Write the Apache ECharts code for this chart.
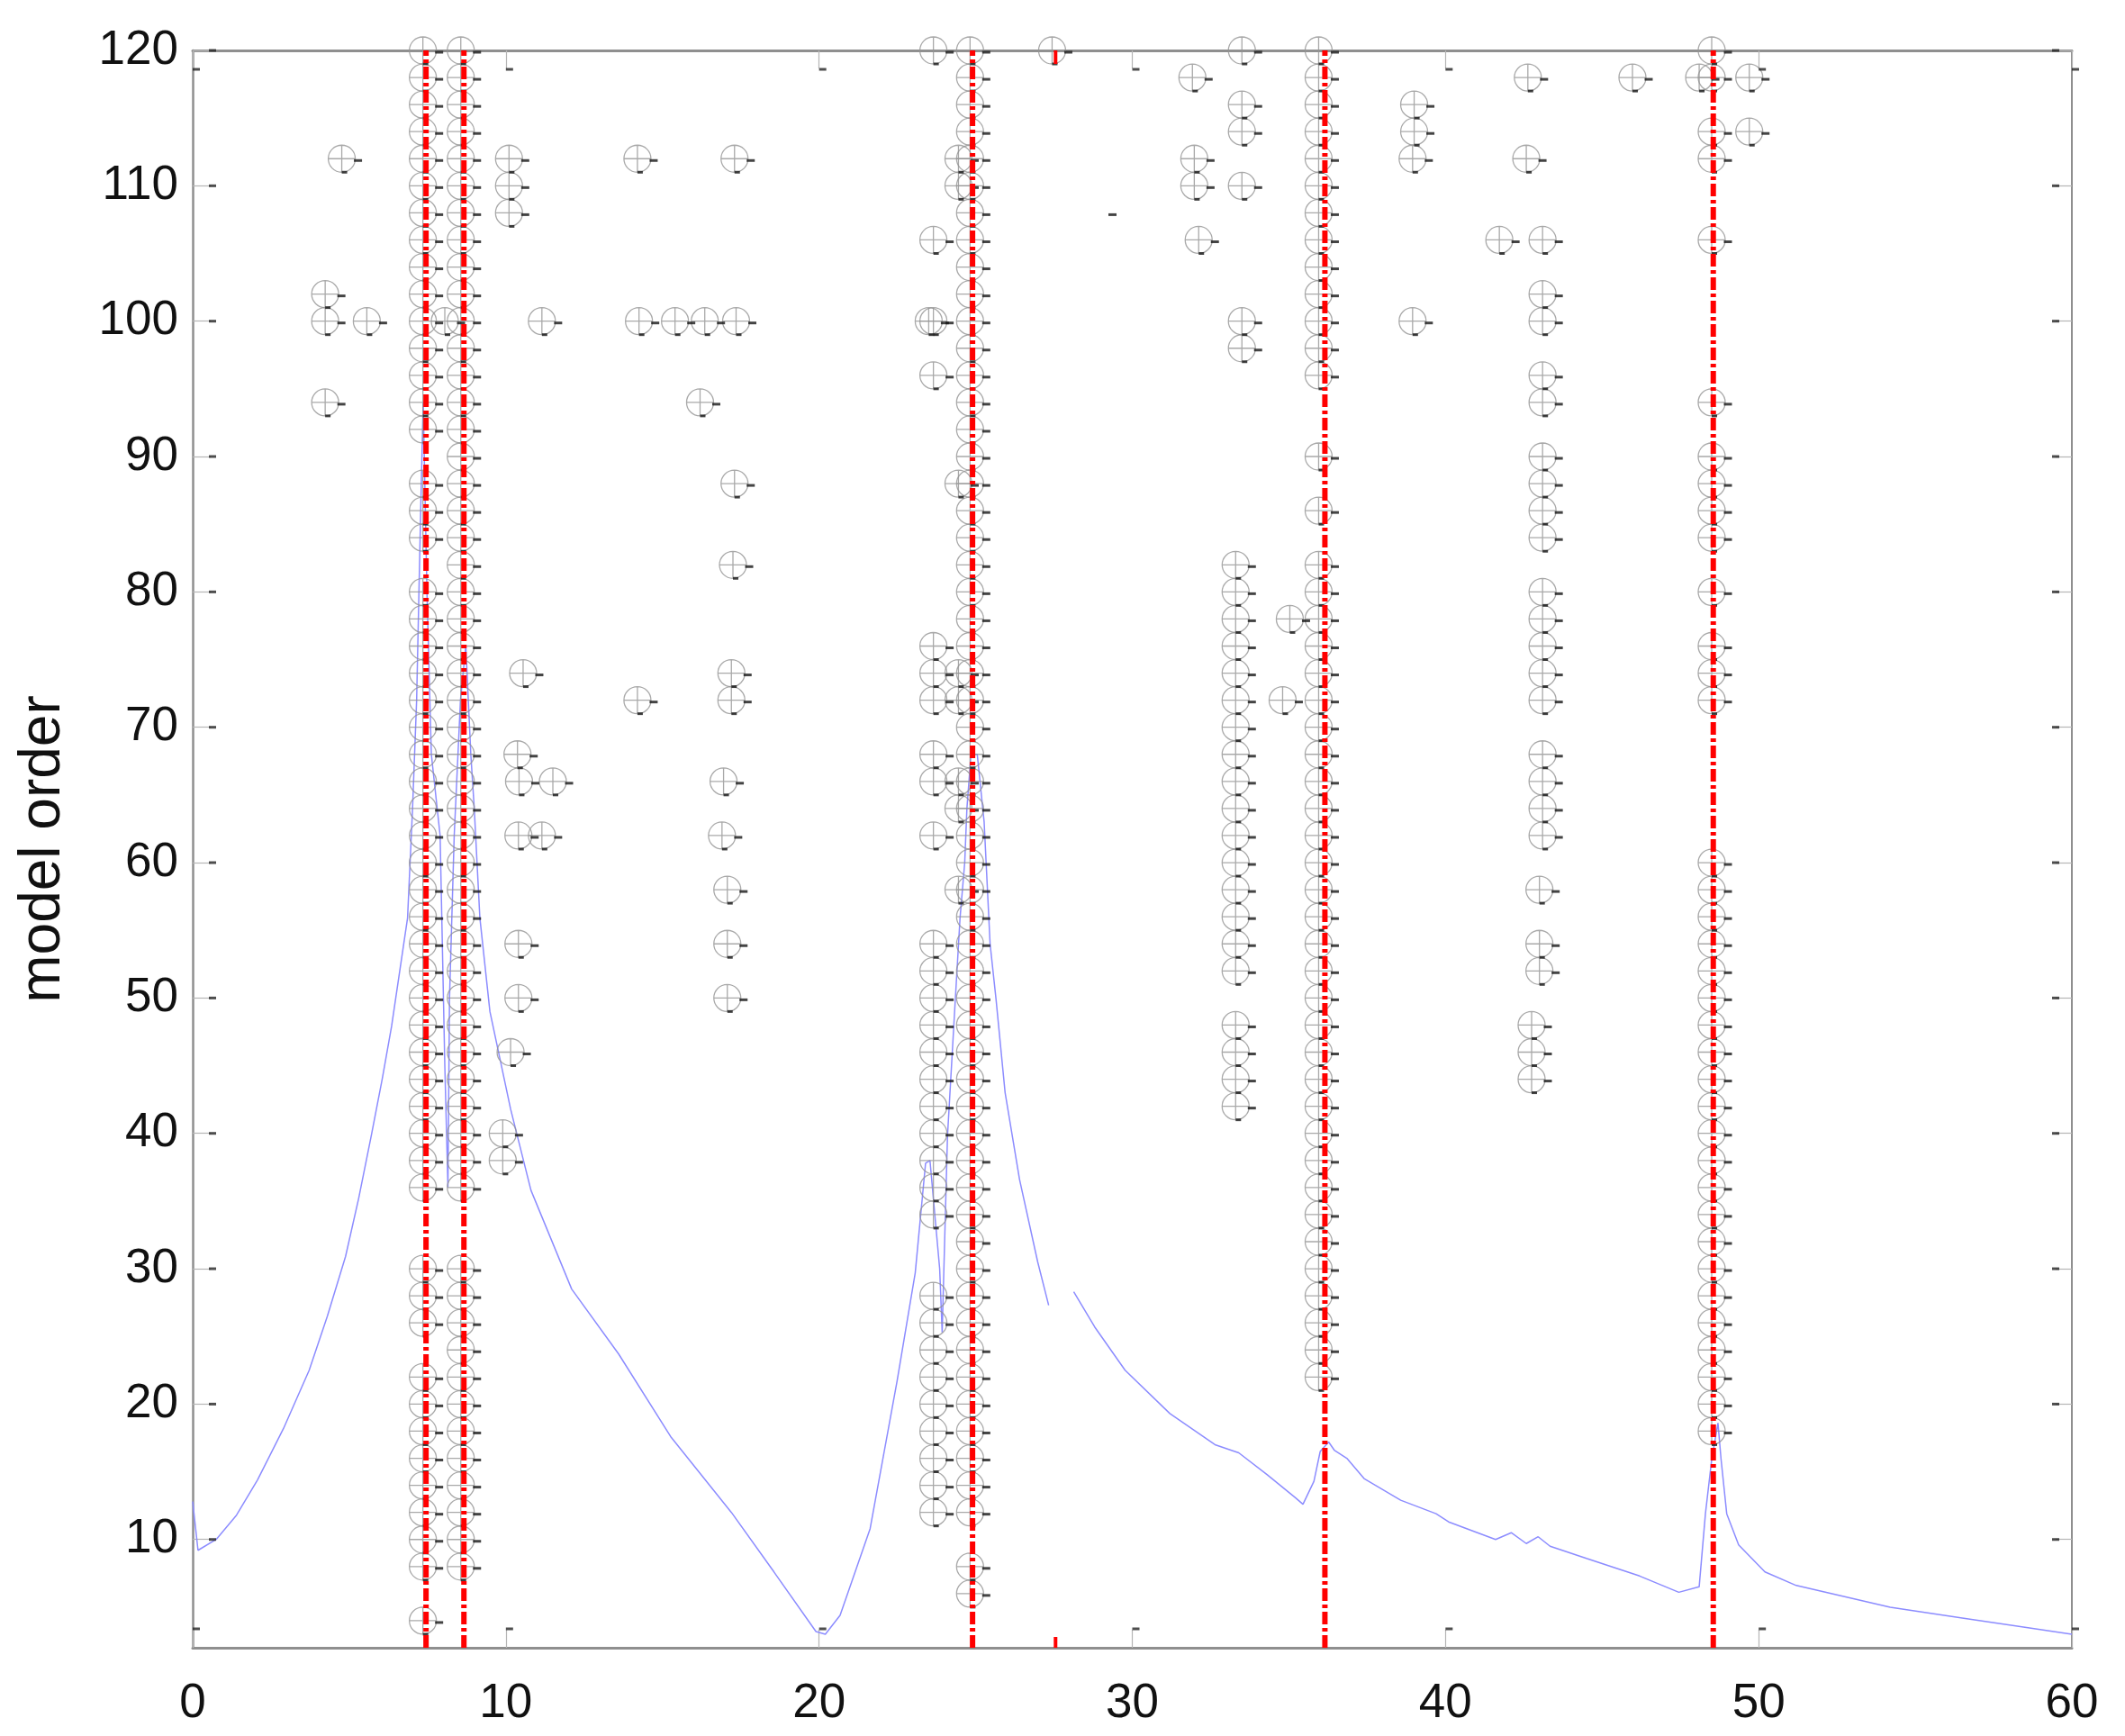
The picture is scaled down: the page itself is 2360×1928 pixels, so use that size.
<!DOCTYPE html>
<html>
<head>
<meta charset="utf-8">
<script src="https://cdn.jsdelivr.net/npm/echarts/dist/echarts.min.js"></script>
<style>
html,body{margin:0;padding:0;background:#ffffff;}
#chart{width:2360px;height:1928px;}
</style>
</head>
<body>
<div id="chart"></div>
<script>
// ---------------- data ----------------
const xTickValues = [0, 10, 20, 30, 40, 50, 60];
const yTickValues = [10, 20, 30, 40, 50, 60, 70, 80, 90, 100, 110, 120];
const yAxisName = 'model order';

// identified modal frequencies (red dash-dot lines)
const modeFrequencies = [7.45, 8.66, 24.9, 36.15, 48.55];

// blue spectrum curve [frequency, scaled level]
const spectrumCurve = [
  [0, 12.8], [0.17, 9.2], [0.75, 10.0], [1.4, 11.8], [2.07, 14.4], [2.9, 18.2], [3.72, 22.5],
  [4.3, 26.5], [4.88, 30.9], [5.3, 35.2], [5.7, 39.8], [6.05, 44.0],
  [6.35, 47.9], [6.86, 55.9], [7.02, 64], [7.15, 72], [7.28, 86], [7.36, 94], [7.48, 80],
  [7.62, 68], [7.9, 62], [8.05, 45], [8.15, 36], [8.2, 50], [8.35, 62], [8.55, 72], [8.72, 76],
  [8.88, 68], [8.99, 64], [9.17, 55.9], [9.49, 49], [10.15, 41.8], [10.8, 35.8], [12.1, 28.5],
  [13.6, 23.7], [15.26, 17.6], [17.2, 12.0], [18.56, 7.6], [19.9, 3.2], [20.2, 3.0], [20.67, 4.4],
  [21.63, 10.8], [22.49, 21.7], [23.07, 29.7], [23.4, 37.8], [23.54, 38], [23.85, 30], [23.93, 25.3],
  [24.1, 39.8], [24.3, 47.9], [24.5, 55.9], [24.65, 60], [24.72, 64], [24.85, 68], [25.05, 68],
  [25.27, 63], [25.46, 54], [25.65, 49.9], [25.94, 43], [26.4, 36.6], [26.98, 30.5], [27.33, 27.3],
  ['-', '-'],
  [28.13, 28.3], [28.8, 25.7], [29.77, 22.5], [31.2, 19.3], [32.64, 17.0], [33.4, 16.4],
  [34.3, 14.8], [35.2, 13.1], [35.45, 12.6], [35.8, 14.3], [36.0, 16.5], [36.27, 17.2],
  [36.45, 16.6], [36.85, 16.0], [37.4, 14.5], [38.57, 12.9], [39.7, 11.9], [40.1, 11.3],
  [41.6, 10.0], [42.1, 10.5], [42.58, 9.7], [42.96, 10.2], [43.34, 9.5], [44.5, 8.6], [46.2, 7.3],
  [47.45, 6.1], [48.1, 6.5], [48.3, 11.9], [48.5, 15.9], [48.7, 18.6], [48.8, 15.9], [48.98, 11.9],
  [49.36, 9.6], [50.2, 7.6], [51.2, 6.6], [54.2, 5.0], [56.5, 4.2], [58.55, 3.5], [60, 3.0]
];

// stable-pole columns: frequency + model orders
const column1Freq = 7.35;
const column1Orders = [120,118,116,114,112,110,108,106,104,102,100,98,96,94,92,88,86,84,80,78,76,74,72,70,68,66,64,62,60,58,56,54,52,50,48,46,44,42,40,38,36,30,28,26,22,20,18,16,14,12,10,8,4];
const column2Freq = 8.56;
const column2Orders = [120,118,116,114,112,110,108,106,104,102,100,98,96,94,92,90,88,86,84,82,80,78,76,74,72,70,68,66,64,62,60,58,56,54,52,50,48,46,44,42,40,38,36,30,28,26,24,22,20,18,16,14,12,10,8];
const column3Freq = 23.65;
const column3Orders = [120,106,100,96,76,74,72,68,66,62,54,52,50,48,46,44,42,40,38,36,34,28,26,24,22,20,18,16,14,12];
const column4Freq = 24.82;
const column4Orders = [120,118,116,114,112,110,108,106,104,102,100,98,96,94,92,90,88,86,84,82,80,78,76,74,72,70,68,66,64,62,60,58,56,54,52,50,48,46,44,42,40,38,36,34,32,30,28,26,24,22,20,18,16,14,12,8,6];
const column4bFreq = 24.45;
const column4bOrders = [112,110,88,74,72,66,64,58];
const column5Freq = 33.5;
const column5Orders = [120,116,114,110,100,98];
const column6Freq = 33.3;
const column6Orders = [82,80,78,76,74,72,70,68,66,64,62,60,58,56,54,52,48,46,44,42];
const column7Freq = 35.95;
const column7Orders = [120,118,116,114,112,110,108,106,104,102,100,98,96,90,86,82,80,78,76,74,72,70,68,66,64,62,60,58,56,54,52,50,48,46,44,42,40,38,36,34,32,30,28,26,24,22];
const column8Freq = 43.1;
const column8Orders = [106,102,100,96,94,90,88,86,84,80,78,76,74,72,68,66,64,62];
const column8bFreq = 43.0;
const column8bOrders = [58,54,52];
const column8cFreq = 42.75;
const column8cOrders = [48,46,44];
const column9Freq = 48.5;
const column9Orders = [120,118,114,112,106,94,90,88,86,84,80,76,74,72,60,58,56,54,52,50,48,46,44,42,40,38,36,34,32,30,28,26,24,22,20,18];

// isolated stable poles [frequency, order]
const isolatedPoles = [
  [4.76,112],[4.23,102],[4.23,100],[5.56,100],[4.23,94],[8.05,100],
  [10.1,112],[10.1,110],[10.1,108],[11.15,100],[10.55,74],[10.37,68],[10.42,66],[11.5,66],
  [10.4,62],[11.15,62],[10.4,54],[10.4,50],[10.15,46],[9.9,40],[9.9,38],
  [14.2,112],[17.3,112],[14.25,100],[15.4,100],[16.35,100],[17.35,100],[16.2,94],[17.3,88],
  [17.25,82],[17.2,74],[14.2,72],[17.2,72],[16.95,66],[16.9,62],[17.07,58],[17.07,54],[17.07,50],
  [23.5,100],[27.44,120],
  [31.92,118],[31.98,112],[31.98,110],[32.12,106],[35.03,78],[34.8,72],
  [39.0,116],[39.0,114],[38.95,112],[38.95,100],[42.63,118],[42.58,112],[41.72,106],
  [45.97,118],[48.1,118],[49.7,118],[49.7,114]
];
// lone marker without circle
const loneMarks = [[28.85,108]];
// small red marks at 27.55 (top and bottom)
const redStubs = [[[27.55,119.0],[27.55,120]],[[27.55,2],[27.55,2.8]]];

// ---------------- build ----------------
const X_MIN = 0, X_MAX = 60, Y_MIN = 2, Y_MAX = 120;
function col(freq, orders){ return orders.map(o => [freq, o]); }
const poles = [].concat(
  col(column1Freq, column1Orders), col(column2Freq, column2Orders),
  col(column3Freq, column3Orders), col(column4Freq, column4Orders), col(column4bFreq, column4bOrders),
  col(column5Freq, column5Orders), col(column6Freq, column6Orders), col(column7Freq, column7Orders),
  col(column8Freq, column8Orders), col(column8bFreq, column8bOrders), col(column8cFreq, column8cOrders),
  col(column9Freq, column9Orders), isolatedPoles
);

const FONT = 'Liberation Sans, Arial, Helvetica, sans-serif';
const circleCross = 'path://M0,10A10,10,0,1,1,20,10A10,10,0,1,1,0,10ZM10,0L10,20M0,10L20,10';
const boxLine = {color:'#8f8f8f', width:3};
const tickLine = {color:'#b5b5b5', width:1.2};

const chart = echarts.init(document.getElementById('chart'), null, {renderer:'canvas'});
const series = [
  {
    type:'line', data: spectrumCurve, showSymbol:false, symbol:'none', connectNulls:false,
    lineStyle:{color:'#8c8cff', width:1.5}, z:1, silent:true
  },
  {
    type:'scatter', data: poles, symbol: circleCross, symbolSize: 30,
    itemStyle:{color:'rgba(0,0,0,0)', borderColor:'#939393', borderWidth:1.3}, z:2, silent:true
  },
  {
    type:'scatter', data: poles.concat(loneMarks), symbol:'rect', symbolSize:[9,3], symbolOffset:[18,2],
    itemStyle:{color:'#151515'}, z:3, silent:true
  },
  {
    type:'scatter', data: poles, symbol:'rect', symbolSize:[6,3], symbolOffset:[3,15],
    itemStyle:{color:'#151515'}, z:3, silent:true
  },
  // black caps at the inner ends of the ticks (bottom, top, left, right)
  {
    type:'scatter', data: xTickValues.map(v => [v, Y_MIN]), symbol:'rect', symbolSize:[8,3], symbolOffset:[4,-21],
    itemStyle:{color:'#222'}, z:3, silent:true, clip:false
  },
  {
    type:'scatter', data: xTickValues.map(v => [v, Y_MAX]), symbol:'rect', symbolSize:[8,3], symbolOffset:[4,21],
    itemStyle:{color:'#222'}, z:3, silent:true, clip:false
  },
  {
    type:'scatter', data: yTickValues.map(v => [X_MIN, v]), symbol:'rect', symbolSize:[8,3], symbolOffset:[22,0],
    itemStyle:{color:'#222'}, z:3, silent:true, clip:false
  },
  {
    type:'scatter', data: yTickValues.map(v => [X_MAX, v]), symbol:'rect', symbolSize:[8,3], symbolOffset:[-18,0],
    itemStyle:{color:'#222'}, z:3, silent:true, clip:false
  }
];
modeFrequencies.forEach(f => {
  series.push({
    type:'line', data:[[f,Y_MIN],[f,Y_MAX]], symbol:'none',
    lineStyle:{color:'#ff0000', width:6, type:[14,4,4,4]}, z:5, silent:true
  });
});
redStubs.forEach(seg => {
  series.push({type:'line', data:seg, symbol:'none', lineStyle:{color:'#ff0000', width:4}, z:5, silent:true});
});

const option = {
  animation:false,
  backgroundColor:'#ffffff',
  grid:{left:214, right:59, top:56, bottom:98, containLabel:false},
  xAxis:[
    {
      type:'value', min:X_MIN, max:X_MAX, interval:10, position:'bottom',
      axisLine:{show:true, onZero:false, lineStyle:boxLine},
      axisTick:{show:true, inside:true, length:20, lineStyle:tickLine},
      axisLabel:{show:true, fontSize:53, color:'#111', margin:36, fontFamily:FONT},
      splitLine:{show:false}
    },
    {
      type:'value', min:X_MIN, max:X_MAX, interval:10, position:'top',
      axisLine:{show:true, onZero:false, lineStyle:boxLine},
      axisTick:{show:true, inside:true, length:20, lineStyle:tickLine},
      axisLabel:{show:false}, splitLine:{show:false}
    }
  ],
  yAxis:[
    {
      type:'value', min:Y_MIN, max:Y_MAX, position:'left',
      name:yAxisName, nameLocation:'middle', nameGap:134,
      nameTextStyle:{fontSize:64, color:'#111', fontFamily:FONT},
      axisLine:{show:true, onZero:false, lineStyle:{color:'#8f8f8f', width:2.5}},
      axisTick:{show:true, inside:true, length:20, customValues:yTickValues, lineStyle:tickLine},
      axisLabel:{show:true, fontSize:53, color:'#111', margin:16, fontFamily:FONT, customValues:yTickValues},
      splitLine:{show:false}
    },
    {
      type:'value', min:Y_MIN, max:Y_MAX, position:'right',
      axisLine:{show:true, onZero:false, lineStyle:{color:'#8f8f8f', width:2}},
      axisTick:{show:true, inside:true, length:18, customValues:yTickValues, lineStyle:tickLine},
      axisLabel:{show:false}, splitLine:{show:false}
    }
  ],
  series: series
};
chart.setOption(option);
</script>
</body>
</html>
